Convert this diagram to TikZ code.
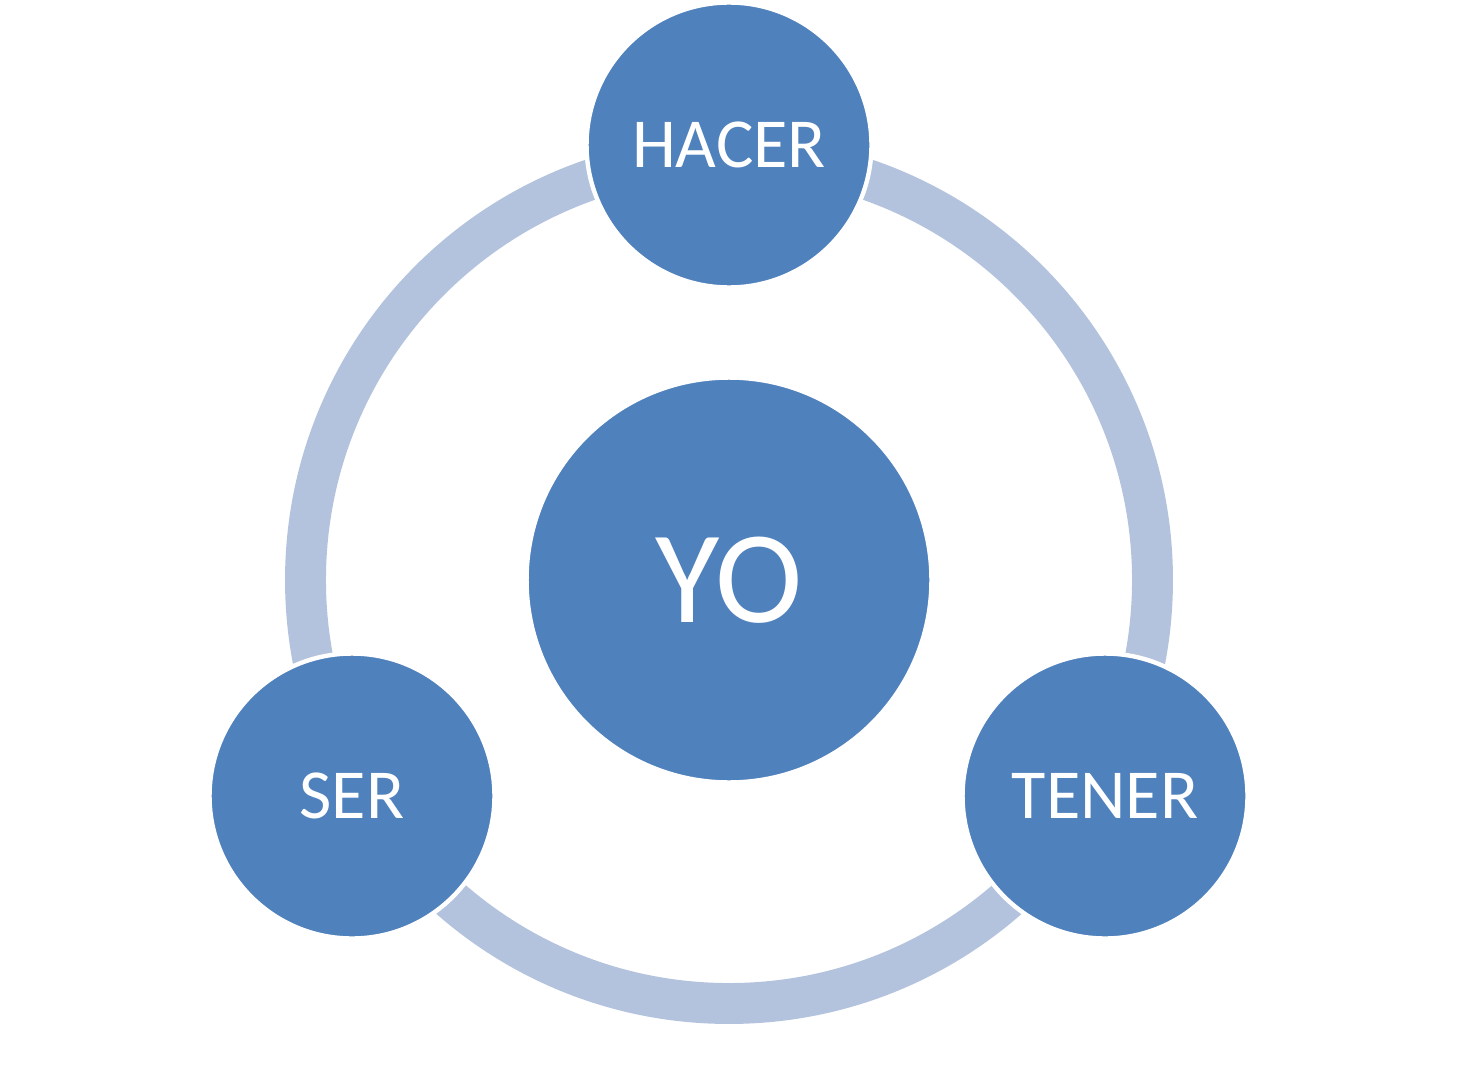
\documentclass[tikz,border=0pt]{standalone}
\usepackage{fontspec}
\setmainfont{Carlito}
\definecolor{dblue}{HTML}{4F81BD}
\definecolor{lblue}{HTML}{B3C3DD}
\begin{document}
\begin{tikzpicture}[x=0.02cm,y=-0.02cm,
  bub/.style={circle,fill=dblue,draw=white,line width=2.5pt,text=white,inner sep=0pt}]
\useasboundingbox (0,0) rectangle (1459,1081);
\draw[lblue,line width=23.3pt] (729,580) circle[radius=423.5];
\node[bub,minimum size=8.1cm,font=\fontsize{75}{80}\selectfont] (yo) at (729,580) {YO};
\node[bub,minimum size=5.7cm,font=\fontsize{40}{44}\selectfont] (hacer) at (729,145) {HACER};
\node[bub,minimum size=5.7cm,font=\fontsize{40}{44}\selectfont] (ser) at (352,796) {SER};
\node[bub,minimum size=5.7cm,font=\fontsize{40}{44}\selectfont] (tener) at (1105,796) {TENER};
\end{tikzpicture}
\end{document}
